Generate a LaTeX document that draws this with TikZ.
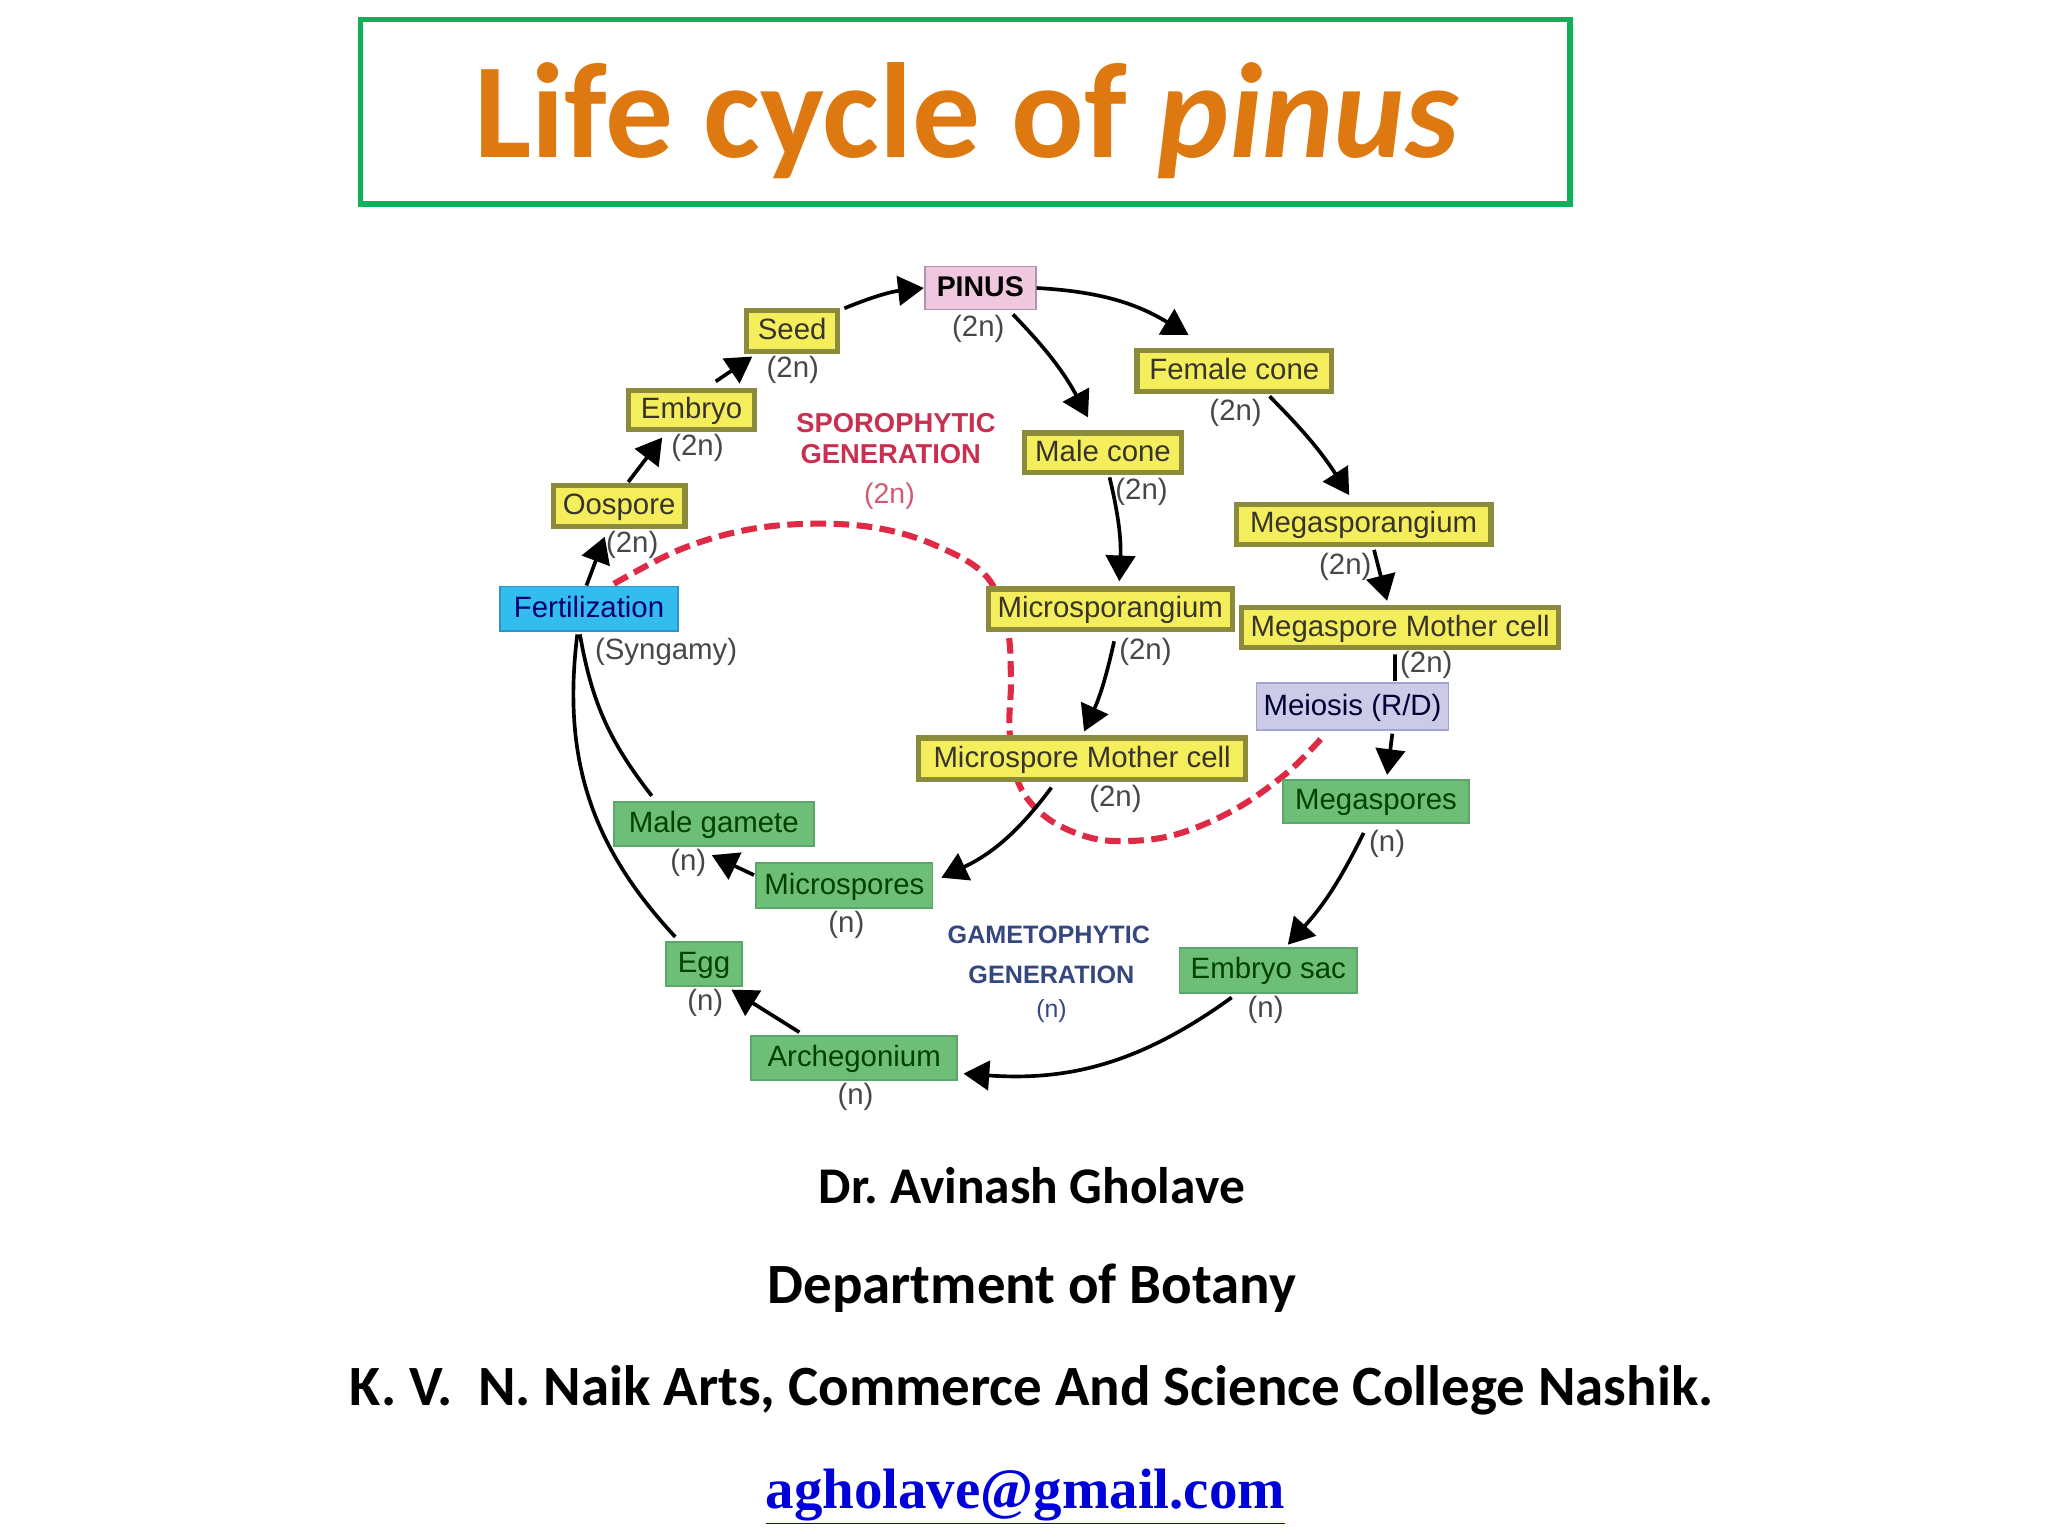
\documentclass[tikz,border=0pt]{standalone}
\usepackage{fontspec}
\setmainfont{Liberation Sans}
\newfontfamily\calfont{Carlito}
\newfontfamily\mailfont{Liberation Serif}
\usetikzlibrary{arrows.meta}

\definecolor{cellyellow}{HTML}{F4EE5C}
\definecolor{edgeyellow}{HTML}{8C8B3C}
\definecolor{cellgreen}{HTML}{6DBF78}
\definecolor{edgegreen}{HTML}{5CA66A}
\definecolor{cellblue}{HTML}{33BDEE}
\definecolor{edgeblue}{HTML}{2F93C4}
\definecolor{cellpink}{HTML}{EFC8DF}
\definecolor{edgepink}{HTML}{B292B0}
\definecolor{celllav}{HTML}{CBCBE8}
\definecolor{edgelav}{HTML}{A3A3D2}
\definecolor{sporored}{HTML}{C9304F}
\definecolor{dashred}{HTML}{DE2A44}
\definecolor{gamblue}{HTML}{34477F}
\definecolor{titlegreen}{HTML}{0FB05A}
\definecolor{titleorange}{HTML}{DE7810}

\tikzset{
  size/.style 2 args={minimum width=#1*0.025cm, minimum height=#2*0.025cm},
  cell/.style={rectangle, draw, inner sep=0pt, text height=11.7pt, text depth=2.5pt, font=\fontsize{16}{18}\selectfont},
  ycell/.style={cell, fill=cellyellow, draw=edgeyellow, line width=2.8pt, text=black!80!olive},
  gcell/.style={cell, fill=cellgreen, draw=edgegreen, line width=1pt, text=green!25!black},
  ploidy/.style={yshift=-1.4pt, font=\fontsize{16}{18}\selectfont, text=black!72},
  arr/.style={line width=2pt, -{Triangle[length=14pt,width=16pt]}},
  tail/.style={line width=2pt},
  credit/.style={font=\calfont\bfseries\fontsize{31}{34}\selectfont}
}

\begin{document}
\begin{tikzpicture}[x=0.025cm, y=-0.025cm]
        \useasboundingbox (0,0) rectangle (1568,1176);

        % Title
        \node[draw=titlegreen, line width=3pt, size={926}{141}] (TB) at (739,85.5) {};
        \node[text=titleorange, font=\calfont\bfseries\fontsize{73.7}{80}\selectfont] (Title) at (740,92) {Life cycle of \textit{pinus}};

        % Boundary between the generations
        \draw[dashred, line width=3.3pt, dash pattern=on 8.5pt off 4.1pt] plot[smooth, tension=0.6] coordinates
            {(470,447) (520,421) (570,406) (620,401) (670,404) (715,417) (755,441) (771,480) (774,520) (773,560)
             (780,600) (800,625) (830,640) (860,644) (900,639) (945,620) (985,592) (1012,565)};

        % Define the sporophyte cells
        \node[cell, fill=cellpink, draw=edgepink, line width=1pt, size={85}{33}, font=\bfseries\fontsize{15.5}{18}\selectfont] (PN) at (750.5,220.5) {PINUS};
        \node[ycell, size={70}{31}] (SD) at (606.5,253.5) {Seed};
        \node[ycell, size={96}{30}] (EB) at (529.5,314) {Embryo};
        \node[ycell, size={101}{31}] (OS) at (474,387.5) {Oospore};
        \node[cell, fill=cellblue, draw=edgeblue, line width=1pt, size={136}{34}, text=blue!45!black] (FZ) at (451,466) {Fertilization};
        \node[ycell, size={149}{31}] (FC) at (945,284) {Female cone};
        \node[ycell, size={120}{30}] (MC) at (844.5,346.5) {Male cone};
        \node[ycell, size={195}{31}] (MG) at (1044,401.5) {Megasporangium};
        \node[ycell, size={187}{31}] (MS) at (850,466.5) {Microsporangium};
        \node[ycell, size={243}{31}] (ME) at (1072,480.5) {Megaspore Mother cell};
        \node[ycell, size={250}{32}] (MP) at (828.5,581) {Microspore Mother cell};

        % Define the gametophyte cells
        \node[cell, fill=celllav, draw=edgelav, line width=1pt, size={147}{36}, text=blue!20!black] (MD) at (1035.5,541) {Meiosis (R/D)};
        \node[gcell, size={143}{33}] (MA) at (1053.5,613.5) {Megaspores};
        \node[gcell, size={153}{34}] (MT) at (546.5,631) {Male gamete};
        \node[gcell, size={135}{34}] (MR) at (646.5,678) {Microspores};
        \node[gcell, size={58}{34}] (EG) at (539,738) {Egg};
        \node[gcell, size={136}{34}] (ES) at (971,743) {Embryo sac};
        \node[gcell, size={158}{34}] (AR) at (654,810) {Archegonium};

        % Ploidy notes
        \node[ploidy] (L1) at (749,250) {(2n)};
        \node[ploidy] (L2) at (607,281) {(2n)};
        \node[ploidy] (L3) at (534,341) {(2n)};
        \node[ploidy] (L4) at (484,415) {(2n)};
        \node[ploidy] (L5) at (510,497) {(Syngamy)};
        \node[ploidy] (L6) at (946,314) {(2n)};
        \node[ploidy] (L7) at (874,375) {(2n)};
        \node[ploidy] (L8) at (1030,432) {(2n)};
        \node[ploidy] (L9) at (877,497) {(2n)};
        \node[ploidy] (L10) at (854,610) {(2n)};
        \node[ploidy] (L11) at (1092,507) {(2n)};
        \node[ploidy] (L12) at (1062,644) {(n)};
        \node[ploidy] (L13) at (527,659) {(n)};
        \node[ploidy] (L14) at (648,706) {(n)};
        \node[ploidy] (L15) at (540,766) {(n)};
        \node[ploidy] (L16) at (655,838) {(n)};
        \node[ploidy] (L17) at (969,771) {(n)};

        % Annotations for the generations
        \node[text=sporored, font=\bfseries\fontsize{14.9}{16}\selectfont] (SP1) at (686,324) {SPOROPHYTIC};
        \node[text=sporored, font=\bfseries\fontsize{14.9}{16}\selectfont] (SP2) at (682,348) {GENERATION};
        \node[text=sporored!80, font=\fontsize{15.5}{18}\selectfont] (SP3) at (681,380) {(2n)};
        \node[text=gamblue, font=\bfseries\fontsize{13.7}{16}\selectfont] (GA1) at (803,716) {GAMETOPHYTIC};
        \node[text=gamblue, font=\bfseries\fontsize{13.7}{16}\selectfont] (GA2) at (805,746) {GENERATION};
        \node[text=gamblue, font=\fontsize{13.5}{16}\selectfont] (GA3) at (805,774) {(n)};

        % Define the edges around the cycle
        \draw[arr] ([shift={(3,0)}]SD.north east) to[bend left=8] (PN.west);
        \draw[arr] ([shift={(18.5,-5)}]EB.north) -- ([shift={(-30.5,2)}]SD.south);
        \draw[arr] ([shift={(7,-1)}]OS.north) -- ([shift={(-22.5,4)}]EB.south);
        \draw[arr] ([shift={(-2,0)}]FZ.north) -- ([shift={(-11,6)}]OS.south);
        \draw[arr] (PN.east) to[bend left=14] ([shift={(-35,-10)}]FC.north);
        \draw[arr] ([shift={(25,3)}]PN.south) to[bend left=8] ([shift={(-11.5,-10)}]MC.north);
        \draw[arr] ([shift={(5,2)}]MC.south) to[bend left=8] ([shift={(7,-4)}]MS.north);
        \draw[arr] ([shift={(27,2)}]FC.south) to[bend left=6] ([shift={(-11,-5)}]MG.north);
        \draw[arr] ([shift={(8,2)}]MG.south) -- ([shift={(-10,-3)}]ME.north);
        \draw[arr] ([shift={(3,7)}]MS.south) to[bend left=6] ([shift={(1.5,-3)}]MP.north);
        \draw[tail] ([shift={(-4,3)}]ME.south) -- ([shift={(32.5,-1)}]MD.north);
        \draw[arr] ([shift={(30.5,2)}]MD.south) -- ([shift={(8.5,-3)}]MA.north);
        \draw[arr] ([shift={(-23.5,4)}]MP.south) to[bend left=14] ([shift={(6,-6)}]MR.east);
        \draw[arr] ([shift={(-1,-8)}]MR.west) -- ([shift={(-1.5,6)}]MT.south);
        \draw[tail] ([shift={(-47.5,-4)}]MT.north) to[bend left=14] ([shift={(-7,2)}]FZ.south);
        \draw[tail] ([shift={(-22,-3)}]EG.north) to[bend left=25] ([shift={(-9,2)}]FZ.south);
        \draw[arr] ([shift={(-9.5,7)}]MA.south) to[bend left=8] ([shift={(15,-2)}]ES.north);
        \draw[arr] ([shift={(-28,3)}]ES.south) to[bend left=20] ([shift={(4,12)}]AR.east);
        \draw[arr] ([shift={(-42,-2)}]AR.north) -- ([shift={(21,2)}]EG.south);

        % Credits
        \node[credit, font=\calfont\bfseries\fontsize{28}{32}\selectfont] (T1) at (790,908) {Dr.\ Avinash Gholave};
        \node[credit] (T2) at (790,986) {Department of Botany};
        \node[credit] (T3) at (790,1064.5) {K.\ V.\ \ N.\ Naik Arts, Commerce And Science College Nashik.};
        \node[text=blue!85!black, font=\mailfont\bfseries\fontsize{31}{34}\selectfont] (T4) at (785,1146) {\underline{agholave@gmail.com}};
\end{tikzpicture}
\end{document}
